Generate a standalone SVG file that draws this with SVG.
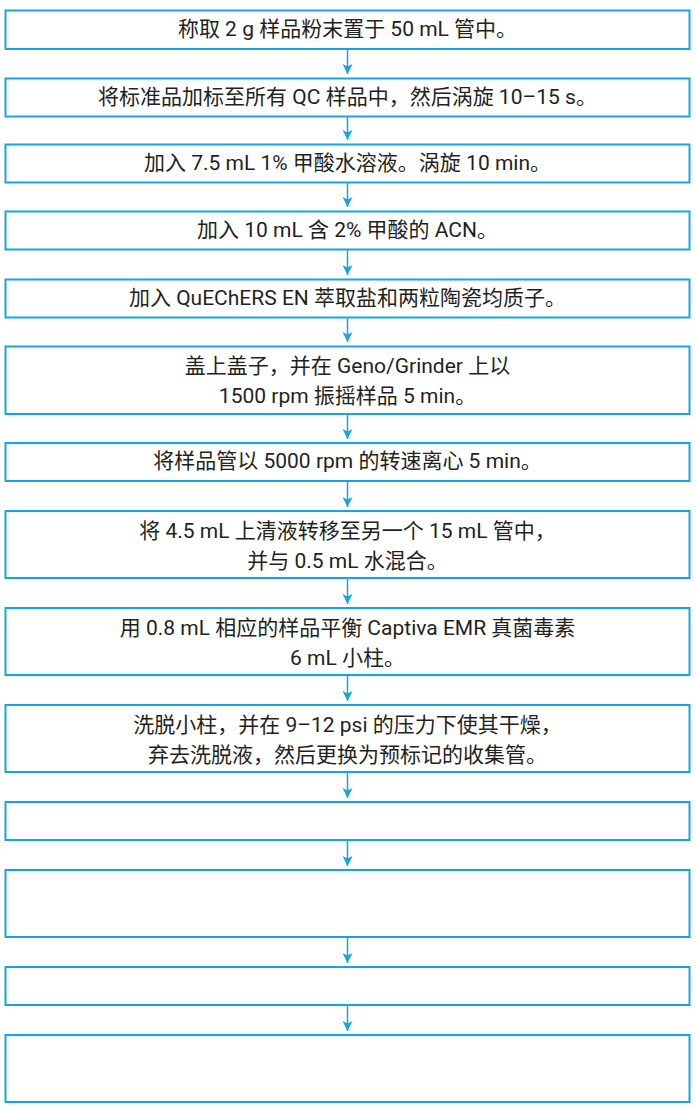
<svg xmlns="http://www.w3.org/2000/svg" width="696" height="1114" viewBox="0 0 696 1114">
<defs>
<style>
.box{fill:#fff;stroke:#16a5e1;stroke-width:2}
.t{font-family:"Roboto","Noto Sans CJK SC",sans-serif;font-size:21px;fill:#231f20;text-anchor:middle}
.c{stroke:#16a5e1;stroke-width:1.5;fill:none}
</style>
<marker id="ah" viewBox="0 0 10 10" refX="10" refY="5" markerWidth="10" markerHeight="10" markerUnits="userSpaceOnUse" orient="auto">
<path d="M0,0 L10,5 L0,10 L2.5,5 Z" fill="#16a5e1"/>
</marker>
</defs>
<rect width="696" height="1114" fill="#fff"/>
<g id="connectors">
<line class="c" x1="347.5" y1="49" x2="347.5" y2="74" marker-end="url(#ah)"/>
<line class="c" x1="347.5" y1="116.5" x2="347.5" y2="140" marker-end="url(#ah)"/>
<line class="c" x1="347.5" y1="182.5" x2="347.5" y2="207" marker-end="url(#ah)"/>
<line class="c" x1="347.5" y1="249.5" x2="347.5" y2="275" marker-end="url(#ah)"/>
<line class="c" x1="347.5" y1="317.5" x2="347.5" y2="342" marker-end="url(#ah)"/>
<line class="c" x1="347.5" y1="414" x2="347.5" y2="439" marker-end="url(#ah)"/>
<line class="c" x1="347.5" y1="481" x2="347.5" y2="507" marker-end="url(#ah)"/>
<line class="c" x1="347.5" y1="578" x2="347.5" y2="604" marker-end="url(#ah)"/>
<line class="c" x1="347.5" y1="675" x2="347.5" y2="701" marker-end="url(#ah)"/>
<line class="c" x1="347.5" y1="772" x2="347.5" y2="798" marker-end="url(#ah)"/>
<line class="c" x1="347.5" y1="840" x2="347.5" y2="866" marker-end="url(#ah)"/>
<line class="c" x1="347.5" y1="937" x2="347.5" y2="963" marker-end="url(#ah)"/>
<line class="c" x1="347.5" y1="1005" x2="347.5" y2="1031" marker-end="url(#ah)"/>
</g>
<g id="n1"><rect class="box" x="5.5" y="10.5" width="684" height="38.5"/><text class="t" x="347.5" y="35.75">称取 2 g 样品粉末置于 50 mL 管中。</text></g>
<g id="n2"><rect class="box" x="5.5" y="78.5" width="684" height="38"/><text class="t" x="347.5" y="103.5">将标准品加标至所有 QC 样品中，然后涡旋 10–15 s。</text></g>
<g id="n3"><rect class="box" x="5.5" y="144.5" width="684" height="38"/><text class="t" x="347.5" y="169.5">加入 7.5 mL 1% 甲酸水溶液。涡旋 10 min。</text></g>
<g id="n4"><rect class="box" x="5.5" y="211.5" width="684" height="38"/><text class="t" x="347.5" y="236.5">加入 10 mL 含 2% 甲酸的 ACN。</text></g>
<g id="n5"><rect class="box" x="5.5" y="279.5" width="684" height="38"/><text class="t" x="347.5" y="304.5">加入 QuEChERS EN 萃取盐和两粒陶瓷均质子。</text></g>
<g id="n6"><rect class="box" x="5.5" y="346.5" width="684" height="67.5"/><text class="t" x="347.5" y="373.25">盖上盖子，并在 Geno/Grinder 上以</text><text class="t" x="347.5" y="403.25">1500 rpm 振摇样品 5 min。</text></g>
<g id="n7"><rect class="box" x="5.5" y="443" width="684" height="38"/><text class="t" x="347.5" y="468">将样品管以 5000 rpm 的转速离心 5 min。</text></g>
<g id="n8"><rect class="box" x="5.5" y="511" width="684" height="67"/><text class="t" x="347.5" y="537.5">将 4.5 mL 上清液转移至另一个 15 mL 管中，</text><text class="t" x="347.5" y="567.5">并与 0.5 mL 水混合。</text></g>
<g id="n9"><rect class="box" x="5.5" y="608" width="684" height="67"/><text class="t" x="347.5" y="634.5">用 0.8 mL 相应的样品平衡 Captiva EMR 真菌毒素</text><text class="t" x="347.5" y="664.5">6 mL 小柱。</text></g>
<g id="n10"><rect class="box" x="5.5" y="705" width="684" height="67"/><text class="t" x="347.5" y="731.5">洗脱小柱，并在 9–12 psi 的压力下使其干燥，</text><text class="t" x="347.5" y="761.5">弃去洗脱液，然后更换为预标记的收集管。</text></g>
<g id="n11"><rect class="box" x="5.5" y="802" width="684" height="38"/></g>
<g id="n12"><rect class="box" x="5.5" y="870" width="684" height="67"/></g>
<g id="n13"><rect class="box" x="5.5" y="967" width="684" height="38"/></g>
<g id="n14"><rect class="box" x="5.5" y="1035" width="684" height="67"/></g>
</svg>
